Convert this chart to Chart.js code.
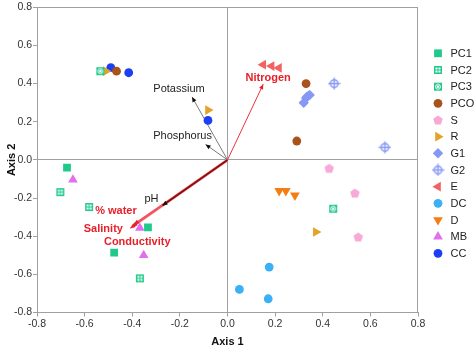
<!DOCTYPE html>
<html>
<head>
<meta charset="utf-8">
<script src="https://cdn.jsdelivr.net/npm/chart.js@4/dist/chart.umd.min.js"></script>
<style>
html,body{margin:0;padding:0;background:#fff;}
#wrap{width:474px;height:348px;position:relative;}
</style>
</head>
<body>
<div id="wrap"><canvas id="c" width="474" height="348"></canvas></div>
<script>
// ---- data ----
const groupNames = ['PC1','PC2','PC3','PCO','S','R','G1','G2','E','DC','D','MB','CC'];
const pc1X = [-0.674, -0.334, -0.476];
const pc1Y = [-0.040, -0.354, -0.486];
const pc2X = [-0.702, -0.581, -0.368];
const pc2Y = [-0.169, -0.247, -0.621];
const pc3X = [-0.534, 0.444];
const pc3Y = [0.465, -0.256];
const pcoX = [-0.466, 0.330, 0.291];
const pcoY = [0.465, 0.400, 0.099];
const sX = [0.427, 0.535, 0.549];
const sY = [-0.044, -0.174, -0.404];
const rX = [-0.511, -0.082, 0.371];
const rY = [0.465, 0.261, -0.378];
const g1X = [0.320, 0.330, 0.345, 0.335];
const g1Y = [0.300, 0.325, 0.340, 0.332];
const g2X = [0.448, 0.661];
const g2Y = [0.400, 0.066];
const eX = [0.150, 0.185, 0.216];
const eY = [0.499, 0.492, 0.482];
const dcX = [0.175, 0.050, 0.171];
const dcY = [-0.562, -0.679, -0.728];
const dX = [0.217, 0.245, 0.283];
const dY = [-0.162, -0.162, -0.186];
const mbX = [-0.649, -0.368, -0.352];
const mbY = [-0.104, -0.357, -0.500];
const ccX = [-0.490, -0.415, -0.082];
const ccY = [0.484, 0.457, 0.207];

const arrowNames = ['Potassium','Phosphorus','Nitrogen','pH','% water','Salinity','Conductivity'];
const arrowX = [-0.149, -0.092, 0.150, -0.273, -0.393, -0.408, -0.400];
const arrowY = [0.330, 0.081, 0.397, -0.239, -0.338, -0.358, -0.349];

const axisTicks = [-0.8, -0.6, -0.4, -0.2, 0.0, 0.2, 0.4, 0.6, 0.8];

// ---- styling ----
const FONT = '"Liberation Sans", Arial, sans-serif';
function mkCanvas(s, fn){ const c=document.createElement('canvas'); c.width=s; c.height=s; const x=c.getContext('2d'); fn(x,s); return c; }
const GREEN = '#1fc98b';
const imgPC2 = mkCanvas(10,(x,s)=>{ x.fillStyle=GREEN; x.fillRect(1,1,8,8); x.fillStyle='#fff'; x.fillRect(2.5,2.5,2,2); x.fillRect(5.5,2.5,2,2); x.fillRect(2.5,5.5,2,2); x.fillRect(5.5,5.5,2,2); });
const imgPC3 = mkCanvas(10,(x,s)=>{ x.fillStyle=GREEN; x.fillRect(1,1,8,8); x.strokeStyle='#fff'; x.lineWidth=1; x.beginPath(); x.arc(5,5,2.4,0,Math.PI*2); x.stroke(); x.beginPath(); x.moveTo(3.5,3.5); x.lineTo(6.5,6.5); x.moveTo(6.5,3.5); x.lineTo(3.5,6.5); x.stroke(); });
const imgG2 = mkCanvas(13,(x,s)=>{ x.strokeStyle='#8797f5'; x.lineWidth=1.4; x.beginPath(); x.arc(6.5,6.5,3.8,0,Math.PI*2); x.stroke(); x.beginPath(); x.moveTo(6.5,0.5); x.lineTo(6.5,12.5); x.moveTo(0.5,6.5); x.lineTo(12.5,6.5); x.stroke(); });
const imgS = mkCanvas(12,(x,s)=>{ x.fillStyle='#f9a9d6'; x.beginPath(); for(let i=0;i<5;i++){ const a=-Math.PI/2+i*2*Math.PI/5; const px=6+5*Math.cos(a), py=6.4+5*Math.sin(a); i?x.lineTo(px,py):x.moveTo(px,py);} x.closePath(); x.fill(); });

const groupStyle = {
  PC1:{style:'rect', r:5.5, color:GREEN, rot:0},
  PC2:{style:imgPC2, r:5, color:GREEN, rot:0},
  PC3:{style:imgPC3, r:5, color:GREEN, rot:0},
  PCO:{style:'circle', r:4.4, color:'#a8521c', rot:0},
  S:{style:imgS, r:5, color:'#f9a9d6', rot:0},
  R:{style:'triangle', r:5.6, color:'#e2a326', rot:90},
  G1:{style:'rectRot', r:5.2, color:'#8797f5', rot:0},
  G2:{style:imgG2, r:5, color:'#8797f5', rot:0},
  E:{style:'triangle', r:5.6, color:'#f26262', rot:-90},
  DC:{style:'circle', r:4.4, color:'#3bb0f4', rot:0},
  D:{style:'triangle', r:5.6, color:'#f57e12', rot:180},
  MB:{style:'triangle', r:5.6, color:'#e070ec', rot:0},
  CC:{style:'circle', r:4.4, color:'#1b3ff3', rot:0}
};
const groupX = [pc1X,pc2X,pc3X,pcoX,sX,rX,g1X,g2X,eX,dcX,dX,mbX,ccX];
const groupY = [pc1Y,pc2Y,pc3Y,pcoY,sY,rY,g1Y,g2Y,eY,dcY,dY,mbY,ccY];

const arrowStyle = {
  'Potassium':{line:'#7a7a7a', w:1, head:'#111', text:'#222', bold:false, dx:-13, dy:-8},
  'Phosphorus':{line:'#7a7a7a', w:1, head:'#111', text:'#222', bold:false, dx:-23, dy:-8},
  'Nitrogen':{line:'#ee3140', w:1, head:'#e8202a', text:'#e8202a', bold:true, dx:5, dy:-6},
  'pH':{line:'#8a1010', w:1.8, head:'#111', text:'#222', bold:false, dx:-11, dy:-7},
  '% water':{line:'#f0505c', w:1.3, head:'#e8202a', text:'#e8202a', bold:true, dx:-18, dy:-13},
  'Salinity':{line:'#f0505c', w:1.3, head:'#e8202a', text:'#e8202a', bold:true, dx:-27, dy:1},
  'Conductivity':{line:'#f6a0a6', w:3, head:'#e8202a', text:'#e8202a', bold:true, dx:5, dy:15}
};

const datasets = [];
groupNames.forEach((g,i)=>{
  const st = groupStyle[g];
  datasets.push({
    label:g, kind:'group',
    data: groupX[i].map((v,k)=>({x:v, y:groupY[i][k]})),
    pointStyle: st.style, pointRadius: st.r, pointHoverRadius: st.r,
    pointRotation: st.rot,
    backgroundColor: st.color, borderColor: st.color, borderWidth:0,
    showLine:false, order: 1
  });
});
const arrowOrder = {'Potassium':10,'Phosphorus':10,'Nitrogen':10,'pH':5,'% water':8,'Salinity':8,'Conductivity':12};
arrowNames.forEach((n,i)=>{
  const st = arrowStyle[n];
  datasets.push({
    label:n, kind:'arrow', type:'line',
    data:[{x:0,y:0},{x:arrowX[i], y:arrowY[i]}],
    borderColor: st.line, borderWidth: st.w, pointRadius:0, pointHoverRadius:0,
    showLine:true, fill:false, order: arrowOrder[n]
  });
});

const framePlugin = {
  id:'frame',
  beforeDatasetsDraw(chart){
    const {ctx, chartArea:a} = chart;
    ctx.save(); ctx.strokeStyle='#a0a0a0'; ctx.lineWidth=1;
    ctx.strokeRect(Math.round(a.left)+0.5, Math.round(a.top)+0.5, Math.round(a.right-a.left)-1, Math.round(a.bottom-a.top));
    ctx.restore();
  }
};

const arrowPlugin = {
  id:'arrows',
  afterDatasetsDraw(chart){
    const {ctx, scales:{x, y}} = chart;
    ctx.save();
    arrowNames.forEach((n,i)=>{
      const st = arrowStyle[n];
      const x0=x.getPixelForValue(0), y0=y.getPixelForValue(0);
      const x1=x.getPixelForValue(arrowX[i]), y1=y.getPixelForValue(arrowY[i]);
      const ang = Math.atan2(y1-y0, x1-x0);
      const L=5, W=2.2;
      ctx.fillStyle = st.head;
      ctx.beginPath();
      ctx.moveTo(x1,y1);
      ctx.lineTo(x1 - L*Math.cos(ang) + W*Math.sin(ang), y1 - L*Math.sin(ang) - W*Math.cos(ang));
      ctx.lineTo(x1 - L*Math.cos(ang) - W*Math.sin(ang), y1 - L*Math.sin(ang) + W*Math.cos(ang));
      ctx.closePath(); ctx.fill();
    });
    arrowNames.forEach((n,i)=>{
      const st = arrowStyle[n];
      const x1=x.getPixelForValue(arrowX[i]), y1=y.getPixelForValue(arrowY[i]);
      ctx.font = (st.bold?'bold ':'') + '11px ' + FONT;
      ctx.fillStyle = st.text; ctx.textAlign='center'; ctx.textBaseline='middle';
      ctx.fillText(n, x1+st.dx, y1+st.dy);
    });
    ctx.restore();
  }
};

const legendPlugin = {
  id:'customLegend',
  afterDraw(chart){
    const {ctx} = chart;
    const a = chart.chartArea;
    ctx.save();
    const sx = a.right + 20, ty = 53.3, step = 16.67;
    groupNames.forEach((g,i)=>{
      const st = groupStyle[g];
      const yy = ty + i*step;
      ctx.fillStyle = st.color; ctx.strokeStyle = st.color;
      Chart.helpers.drawPoint(ctx, {pointStyle: st.style, rotation: st.rot, radius: st.r, borderWidth:0}, sx, yy);
      ctx.fillStyle = '#222'; ctx.font = '11px ' + FONT; ctx.textAlign='left'; ctx.textBaseline='middle';
      ctx.fillText(g, sx+12.5, yy+0.5);
    });
    ctx.restore();
  }
};

const gridColor = c => (c.tick && c.tick.value === 0) ? '#a0a0a0' : 'rgba(0,0,0,0)';

new Chart(document.getElementById('c'), {
  type:'scatter',
  data:{datasets},
  options:{
    responsive:false, animation:false, devicePixelRatio:1,
    layout:{padding:{top:4.5, right:56, left:0, bottom:0}, autoPadding:false},
    plugins:{legend:{display:false}, tooltip:{enabled:false}},
    scales:{
      x:{
        type:'linear', min:-0.8, max:0.8,
        afterBuildTicks: s => { s.ticks = axisTicks.map(v=>({value:v})); },
        afterFit: s => { s.height = 35.5; },
        ticks:{font:{family:FONT, size:10.5}, color:'#333', padding:1, maxRotation:0, autoSkip:false, callback:v=>Number(v).toFixed(1)},
        grid:{color:gridColor, tickColor:'#a0a0a0', tickLength:4, drawOnChartArea:true},
        border:{display:true, color:'#a0a0a0'},
        title:{display:true, text:'Axis 1', font:{family:FONT, size:11, weight:'bold', lineHeight:1}, color:'#111', padding:{top:0,bottom:1}}
      },
      y:{
        type:'linear', min:-0.8, max:0.8,
        afterBuildTicks: s => { s.ticks = axisTicks.map(v=>({value:v})); },
        afterFit: s => { s.width = 37; },
        ticks:{font:{family:FONT, size:10.5}, color:'#333', padding:1, autoSkip:false, callback:v=>Number(v).toFixed(1)},
        grid:{color:gridColor, tickColor:'#a0a0a0', tickLength:4, drawOnChartArea:true},
        border:{display:true, color:'#a0a0a0'},
        title:{display:true, text:'Axis 2', font:{family:FONT, size:11, weight:'bold', lineHeight:1}, color:'#111', padding:{top:6.5,bottom:0}}
      }
    }
  },
  plugins:[framePlugin, arrowPlugin, legendPlugin]
});
</script>
</body>
</html>
